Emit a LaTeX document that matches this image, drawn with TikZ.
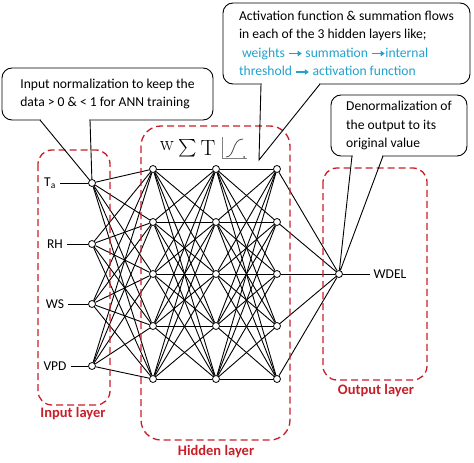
\documentclass[tikz,border=0pt]{standalone}
\usepackage{fontspec}
\setmainfont{Carlito}
\newfontfamily\lmserif{Latin Modern Roman}
\usetikzlibrary{arrows.meta}
\definecolor{layerred}{RGB}{200,30,40}
\definecolor{flowblue}{RGB}{35,160,205}
\newcommand{\flowarrow}{\tikz[baseline=-.6ex]\draw[-{Triangle[length=4pt,width=5.5pt]},line width=1.4pt] (0pt,0pt) -- (13pt,0pt);}

\begin{document}
\begin{tikzpicture}[x=1pt,y=-1pt,
  neuron/.style={circle,draw,fill=white,inner sep=0pt,minimum size=7pt,line width=.8pt},
  link/.style={line width=.9pt},
  layerbox/.style={draw=layerred,line width=1.3pt,dash pattern=on 7pt off 4pt,rounded corners=14pt},
  layername/.style={text=layerred,font=\bfseries\fontsize{14.5}{16}\selectfont},
  note/.style={draw,line width=.9pt,rounded corners=10pt,align=left,inner sep=0pt,
    font=\fontsize{13.6}{18.5}\selectfont},
  varname/.style={font=\fontsize{13.5}{15}\selectfont,inner sep=4pt}]
\useasboundingbox (0,0) rectangle (474,463);

% Input layer
\foreach \y [count=\i] in {183,244,304,366}
  \node[neuron] (i\i) at (92,\y) {};

% Hidden layers
\foreach \x [count=\l] in {153,216,277}
  \foreach \y [count=\j] in {169,222,274,326,379}
    \node[neuron] (h\l\j) at (\x,\y) {};

% Output layer
\node[neuron] (o1) at (339,274) {};

% Weights between the layers
\foreach \a in {1,...,4}
  \foreach \b in {1,...,5}
    \draw[link] (i\a) -- (h1\b);
\foreach \l/\m in {1/2,2/3}
  \foreach \a in {1,...,5}
    \foreach \b in {1,...,5}
      \draw[link] (h\l\a) -- (h\m\b);
\foreach \a in {1,...,5}
  \draw[link] (h3\a) -- (o1);

% Inputs and output
\node[varname] (ta)  at (50,183) {T\textsubscript{a}};
\node[varname] (rh)  at (55,244) {RH};
\node[varname] (ws)  at (55,304) {WS};
\node[varname] (vpd) at (55,366) {VPD};
\draw[link] (ta.east) -- (i1);
\draw[link] (rh.east) -- (i2);
\draw[link] (ws.east) -- (i3);
\draw[link] (vpd.east) -- (i4);
\node[varname] (wdel) at (390,274) {WDEL};
\draw[link] (o1) -- (wdel.west);

% Dashed layer boxes
\draw[layerbox] (38,150) rectangle (110,405);
\draw[layerbox,rounded corners=20pt] (141,126) rectangle (290,440);
\draw[layerbox] (323,168) rectangle (427,380);
\node[layername] (inlab)  at (73,414)  {Input layer};
\node[layername] (hidlab) at (216,452) {Hidden layer};
\node[layername] (outlab) at (376,391) {Output layer};

% w, sum, T and the sigmoid
\node[font=\lmserif\fontsize{21}{21}\selectfont] (wsym) at (167,146) {w};
\node[scale=1.75] (ssym) at (188,148) {$\sum$};
\node[font=\lmserif\fontsize{22}{22}\selectfont] (tsym) at (208,148) {T};
\draw[gray,line width=.8pt] (222,137) -- (222,158) -- (247,158);
\draw[gray!60!black,line width=.8pt] (226,157) .. controls (235,157) and (232,139) .. (243,139);
\fill[gray!60!black] (244,157) circle (1pt);

% Notes
\node[note,minimum width=211pt,minimum height=52pt] (innote) at (107.5,94)
  {Input normalization to keep the\\data > 0 \& < 1 for ANN training};
\node[note,minimum width=247pt,minimum height=81pt] (actnote) at (346.5,43.5)
  {Activation function \& summation flows\\in each of the 3 hidden layers like;\\
   \textcolor{flowblue}{\hspace{3pt}weights \flowarrow{} summation \flowarrow internal}\\
   \textcolor{flowblue}{threshold \flowarrow{} activation function}};
\node[note,minimum width=136pt,minimum height=61pt] (denote) at (399,125.5)
  {Denormalization of\\the output to its\\original value};

% Note pointers
\coordinate (ina) at (40,120);
\coordinate (inb) at (90,120);
\draw[white,line width=2pt] ([xshift=1pt]ina) -- ([xshift=-1pt]inb);
\draw[link] (ina) -- (i1) -- (inb);
\coordinate (acta) at (261,84);
\coordinate (actb) at (320,84);
\coordinate (actp) at (259,160);
\draw[white,line width=2pt] ([xshift=1pt]acta) -- ([xshift=-1pt]actb);
\draw[link] (acta) -- (actp) -- (actb);
\coordinate (dea) at (352,156);
\coordinate (deb) at (383,156);
\draw[white,line width=2pt] ([xshift=1pt]dea) -- ([xshift=-1pt]deb);
\draw[link] (dea) -- (o1) -- (deb);

\end{tikzpicture}
\end{document}
